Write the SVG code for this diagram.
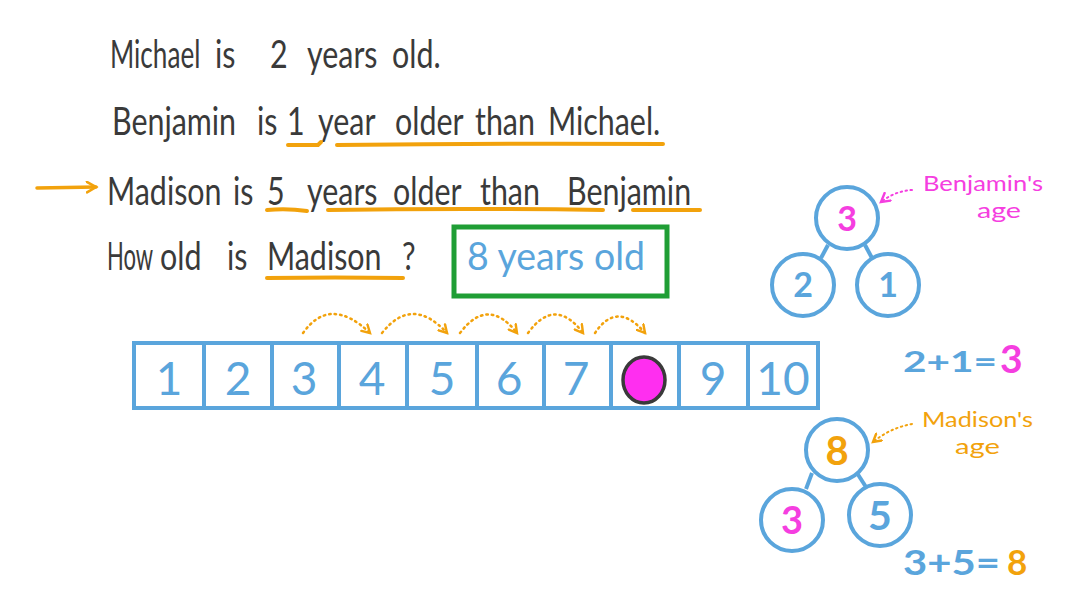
<svg xmlns="http://www.w3.org/2000/svg" width="1088" height="612" viewBox="0 0 1088 612">
<style>
.t{font-family:Lato,"Open Sans",sans-serif;fill:#3a3a3a;font-size:38px}
.b{fill:#5aa5dc}
.o{fill:#f2a20c}
.m{fill:#f53ee0}
.ul{stroke:#f2a20c;stroke-width:4;stroke-linecap:round;fill:none}
.cell{fill:#fff;stroke:#5aa5dc;stroke-width:4}
.num{font-family:Lato,"Open Sans",sans-serif;font-size:46px;fill:#5aa5dc;text-anchor:middle}
.bn{font-family:Lato,"Open Sans",sans-serif;font-weight:bold;text-anchor:middle}
.bond{fill:#fff;stroke:#5aa5dc;stroke-width:4}
.link{stroke:#5aa5dc;stroke-width:4}
.arc{stroke:#f2a20c;stroke-width:2.5;stroke-dasharray:1.5 4;stroke-linecap:round;fill:none}
.lbl{font-family:Lato,"Open Sans",sans-serif;font-size:22px}
.eq{font-family:Lato,"Open Sans",sans-serif;font-weight:bold}
</style>
<defs>
<marker id="aho" viewBox="0 0 10 10" refX="8" refY="5" markerWidth="11" markerHeight="11" orient="auto" markerUnits="userSpaceOnUse">
<path d="M1 1 L8 5 L1 9" fill="none" stroke="#f2a20c" stroke-width="2.2" stroke-linecap="round"/>
</marker>
<marker id="ahm" viewBox="0 0 10 10" refX="8" refY="5" markerWidth="12" markerHeight="12" orient="auto" markerUnits="userSpaceOnUse">
<path d="M1 1 L8 5 L1 9" fill="none" stroke="#f53ee0" stroke-width="2" stroke-linecap="round"/>
</marker>
<marker id="aha" viewBox="0 0 10 10" refX="8" refY="5" markerWidth="13" markerHeight="13" orient="auto" markerUnits="userSpaceOnUse">
<path d="M1 1 L8 5 L1 9" fill="none" stroke="#f2a20c" stroke-width="2" stroke-linecap="round"/>
</marker>
</defs>
<rect width="1088" height="612" fill="#fff"/>

<g id="text-lines">
<text class="t" y="68" transform="scale(0.8 1)"><tspan x="137.5" textLength="113" lengthAdjust="spacingAndGlyphs">Michael</tspan><tspan x="268.75">is</tspan><tspan x="337.5">2</tspan><tspan x="383.75">years</tspan><tspan x="490">old.</tspan></text>
<text class="t" y="135" transform="scale(0.8 1)"><tspan x="140">Benjamin</tspan><tspan x="321.25">is</tspan><tspan x="358.75">1</tspan><tspan x="397.5">year</tspan><tspan x="493.75">older</tspan><tspan x="593.75">than</tspan><tspan x="685">Michael.</tspan></text>
<text class="t" y="205" transform="scale(0.8 1)"><tspan x="133.75">Madison</tspan><tspan x="291.25">is</tspan><tspan x="333.75">5</tspan><tspan x="383.75">years</tspan><tspan x="491.25">older</tspan><tspan x="600">than</tspan><tspan x="708.75">Benjamin</tspan></text>
<text class="t" y="270" transform="scale(0.58 1)" x="184.5">How</text>
<text class="t" y="270" transform="scale(0.8 1)"><tspan x="200">old</tspan><tspan x="283.75">is</tspan><tspan x="333.75">Madison</tspan><tspan x="502.5">?</tspan></text>
</g>

<g id="underlines">
<path class="ul" d="M288 145 L318 145 L321 142"/>
<path class="ul" d="M337 145 Q500 143 663 144"/>
<path class="ul" d="M267 210 Q287 208 307 211"/>
<path class="ul" d="M328 210 Q465 208 603 210"/>
<path class="ul" d="M633 210 L700 210"/>
<path class="ul" d="M267 278 Q335 277 403 278"/>
<path d="M37 188 L96 187" stroke="#f2a20c" stroke-width="3.5" fill="none" stroke-linecap="round" marker-end="url(#aha)"/>
</g>

<g id="answer">
<rect x="454" y="227" width="213" height="69" fill="none" stroke="#1f9e35" stroke-width="5"/>
<text class="t b" y="270"><tspan x="467" textLength="178" lengthAdjust="spacingAndGlyphs">8 years old</tspan></text>
</g>

<g id="number-line">
<rect class="cell" x="134" y="343" width="70" height="65"/>
<rect class="cell" x="204" y="343" width="68" height="65"/>
<rect class="cell" x="272" y="343" width="67" height="65"/>
<rect class="cell" x="339" y="343" width="68" height="65"/>
<rect class="cell" x="407" y="343" width="70" height="65"/>
<rect class="cell" x="477" y="343" width="67" height="65"/>
<rect class="cell" x="544" y="343" width="67" height="65"/>
<rect class="cell" x="611" y="343" width="68" height="65"/>
<rect class="cell" x="679" y="343" width="69" height="65"/>
<rect class="cell" x="748" y="343" width="70" height="65"/>
<text class="num" x="169" y="395">1</text>
<text class="num" x="238" y="395">2</text>
<text class="num" x="304" y="395">3</text>
<text class="num" x="372" y="395">4</text>
<text class="num" x="442" y="395">5</text>
<text class="num" x="509" y="395">6</text>
<text class="num" x="576" y="395">7</text>
<ellipse cx="644" cy="380" rx="21" ry="23" fill="#ff2ef0" stroke="#3a3a3a" stroke-width="3.5"/>
<text class="num" x="713" y="395">9</text>
<text class="num" x="783" y="395">10</text>
</g>

<g id="hops">
<path class="arc" d="M303 333 Q330 295 370 333" marker-end="url(#aho)"/>
<path class="arc" d="M382 333 Q412 295 447 333" marker-end="url(#aho)"/>
<path class="arc" d="M460 333 Q488 296 517 333" marker-end="url(#aho)"/>
<path class="arc" d="M528 333 Q555 296 583 333" marker-end="url(#aho)"/>
<path class="arc" d="M595 333 Q617 300 645 333" marker-end="url(#aho)"/>
</g>

<g id="bond-benjamin">
<line class="link" x1="828" y1="245" x2="821" y2="258"/>
<line class="link" x1="865" y1="245" x2="872" y2="258"/>
<circle class="bond" cx="847" cy="218" r="31"/>
<circle class="bond" cx="803" cy="285" r="31"/>
<circle class="bond" cx="888" cy="285" r="31"/>
<text class="bn m" x="847" y="231" font-size="34">3</text>
<text class="bn b" x="803" y="297" font-size="34">2</text>
<text class="bn b" x="888" y="297" font-size="34">1</text>
<path d="M912 190 Q895 191 881 202" stroke="#f53ee0" stroke-width="2" stroke-dasharray="1.5 3.5" stroke-linecap="round" fill="none" marker-end="url(#ahm)"/>
<text class="lbl m"><tspan x="923" y="191" textLength="120" lengthAdjust="spacingAndGlyphs">Benjamin's</tspan><tspan x="977" y="218" textLength="44" lengthAdjust="spacingAndGlyphs">age</tspan></text>
<text class="eq b" x="903" y="372" font-size="29" textLength="94" lengthAdjust="spacingAndGlyphs">2+1=</text>
<text class="eq m" x="1000" y="373" font-size="39">3</text>
</g>

<g id="bond-madison">
<line class="link" x1="812" y1="473" x2="806" y2="489"/>
<line class="link" x1="857" y1="473" x2="866" y2="487"/>
<circle class="bond" cx="837" cy="450" r="31"/>
<circle class="bond" cx="792" cy="520" r="31"/>
<circle class="bond" cx="880" cy="515" r="31"/>
<text class="bn o" x="837" y="465" font-size="40">8</text>
<text class="bn m" x="792" y="534" font-size="38">3</text>
<text class="bn b" x="880" y="530" font-size="41">5</text>
<path d="M912 424 Q890 428 873 442" stroke="#f2a20c" stroke-width="2" stroke-dasharray="1.5 3.5" stroke-linecap="round" fill="none" marker-end="url(#aho)"/>
<text class="lbl o"><tspan x="922" y="427" textLength="111" lengthAdjust="spacingAndGlyphs">Madison's</tspan><tspan x="955" y="454" textLength="45" lengthAdjust="spacingAndGlyphs">age</tspan></text>
<text class="eq b" x="903" y="575" font-size="35" textLength="97" lengthAdjust="spacingAndGlyphs">3+5=</text>
<text class="eq o" x="1007" y="575" font-size="35">8</text>
</g>
</svg>
